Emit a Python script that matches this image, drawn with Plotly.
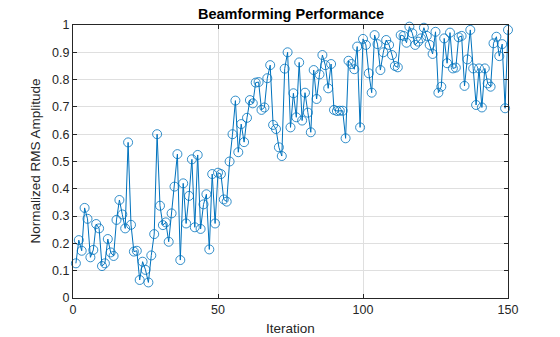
import plotly.graph_objects as go

iterations = list(range(1, 151))
amplitude = [
    0.127, 0.212, 0.173, 0.330, 0.290, 0.149, 0.176, 0.271, 0.255, 0.117,
    0.127, 0.216, 0.167, 0.154, 0.286, 0.359, 0.306, 0.255, 0.570, 0.268,
    0.170, 0.173, 0.066, 0.133, 0.103, 0.057, 0.156, 0.234, 0.600, 0.338,
    0.267, 0.277, 0.206, 0.310, 0.408, 0.527, 0.139, 0.420, 0.273, 0.374,
    0.508, 0.259, 0.524, 0.253, 0.343, 0.380, 0.178, 0.454, 0.273, 0.459,
    0.454, 0.361, 0.353, 0.500, 0.600, 0.723, 0.534, 0.637, 0.571, 0.660,
    0.725, 0.713, 0.789, 0.791, 0.689, 0.698, 0.805, 0.853, 0.634, 0.619,
    0.552, 0.520, 0.840, 0.900, 0.625, 0.750, 0.662, 0.863, 0.650, 0.752,
    0.679, 0.607, 0.835, 0.729, 0.819, 0.890, 0.853, 0.768, 0.857, 0.689,
    0.685, 0.686, 0.686, 0.585, 0.869, 0.857, 0.838, 0.921, 0.625, 0.949,
    0.927, 0.823, 0.752, 0.963, 0.930, 0.835, 0.900, 0.945, 0.927, 0.890,
    0.850, 0.845, 0.963, 0.960, 0.935, 0.994, 0.970, 0.927, 0.939, 0.951,
    0.990, 0.960, 0.927, 0.894, 0.975, 0.752, 0.774, 0.951, 0.860, 0.972,
    0.841, 0.844, 0.955, 0.960, 0.777, 0.874, 0.982, 0.841, 0.707, 0.841,
    0.698, 0.841, 0.786, 0.774, 0.933, 0.957, 0.886, 0.930, 0.695, 0.982,
]
x_ticks = [0, 50, 100, 150]
y_ticks = [0, 0.1, 0.2, 0.3, 0.4, 0.5, 0.6, 0.7, 0.8, 0.9, 1]
y_tick_text = ["0", "0.1", "0.2", "0.3", "0.4", "0.5", "0.6", "0.7", "0.8", "0.9", "1"]

title_text = "Beamforming Performance"
x_label = "Iteration"
y_label = "Normalized RMS Amplitude"

line_color = "#0072BD"
axis_color = "#262626"
font_family = "Liberation Sans, Arial, sans-serif"

fig = go.Figure()
fig.add_trace(go.Scatter(
    x=iterations, y=amplitude, mode="lines+markers",
    line=dict(color=line_color, width=1),
    marker=dict(symbol="circle-open", size=9, color=line_color,
                line=dict(width=0.8, color=line_color)),
    cliponaxis=False,
    showlegend=False,
))

axis_common = dict(
    showline=True, linecolor=axis_color, linewidth=1, mirror="ticks",
    ticks="inside", ticklen=4, tickcolor=axis_color, tickwidth=1,
    showgrid=True, gridcolor="#DFDFDF", gridwidth=1, zeroline=False,
    automargin=False,
    tickfont=dict(family=font_family, size=12.5, color=axis_color),
)

# plot area: 73..508 px horizontally, 25..298 px vertically
fig.update_layout(
    width=560, height=337,
    margin=dict(l=73, r=52, t=25, b=39),
    paper_bgcolor="white", plot_bgcolor="white",
    font=dict(family=font_family, color=axis_color),
    xaxis=dict(range=[0, 150], tickvals=x_ticks, **axis_common),
    yaxis=dict(range=[0, 1], tickvals=y_ticks, ticktext=y_tick_text, **axis_common),
    annotations=[
        dict(text="<b>" + title_text + "</b>", xref="paper", yref="paper",
             x=0.5, y=(298 - 14.5) / 273, xanchor="center", yanchor="middle",
             showarrow=False, font=dict(size=14.5, color="#000000", family=font_family)),
        dict(text=x_label, xref="paper", yref="paper",
             x=0.5, y=(298 - 328) / 273, xanchor="center", yanchor="middle",
             showarrow=False, font=dict(size=13.5, color=axis_color, family=font_family)),
        dict(text=y_label, xref="paper", yref="paper", textangle=-90,
             x=(35 - 73) / 435, y=0.5, xanchor="center", yanchor="middle",
             showarrow=False, font=dict(size=13.5, color=axis_color, family=font_family)),
    ],
)

fig.write_html("out.html")
